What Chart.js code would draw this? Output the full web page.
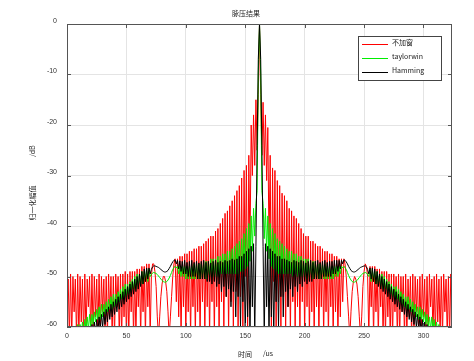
<!DOCTYPE html>
<html>
<head>
<meta charset="utf-8">
<script src="https://cdn.jsdelivr.net/npm/chart.js@4.4.0/dist/chart.umd.min.js"></script>
<style>
  html, body { margin: 0; padding: 0; background: #fff; }
  #wrap { width: 474px; height: 361px; position: relative; }
</style>
</head>
<body>
<div id="wrap"><canvas id="pc"></canvas></div>
<script>
// 脉压结果 — matched-filter output for three window choices, dB vs time (us).
const T0 = 0;   // time of first sample, us
const DT = 1;   // sample spacing, us
const xTicks = [0, 50, 100, 150, 200, 250, 300];
const yTicks = [0, -10, -20, -30, -40, -50, -60];
const seriesNames = ["不加窗", "taylorwin", "Hamming"];
const seriesColours = ["#ff0000", "#00ee00", "#000000"];

// values below -60 fall outside the axis and get clipped, like the original
const noWindowDb = [
  -55, -50.5, -62, -49.5, -62, -50, -57, -50.5, -62, -49.5,
  -62, -50, -59, -50.5, -62, -49.5, -62, -50.5, -56, -50,
  -62, -49.5, -62, -50, -58, -50.5, -62, -49.5, -62, -50,
  -57, -50.5, -62, -50, -62, -49.5, -58, -50, -62, -50,
  -62, -49.5, -56, -50, -62, -49.5, -62, -49.5, -58, -49,
  -62, -49.5, -62, -49, -57, -49, -62, -49, -62, -48.5,
  -56, -48.5, -62, -48, -57, -48, -62, -47.5, -56, -47.5,
  -62, -50, -47.5, -47.5, -49, -52, -58, -62, -58, -54,
  -51.5, -50, -50, -51, -53, -57, -62, -58, -54, -50,
  -47.5, -46.5, -55, -46.5, -58, -46, -62, -46, -56, -45.5,
  -62, -45.5, -57, -45, -62, -45, -56, -44.5, -62, -44.5,
  -57, -44, -62, -44, -55, -43.5, -62, -43, -56, -42.5,
  -62, -42, -55, -42, -62, -41, -56, -40.5, -62, -39.5,
  -55, -38.5, -62, -37.5, -54, -37, -62, -36, -55, -35,
  -62, -34, -53, -33, -62, -32, -54, -30.5, -62, -29,
  -50, -28, -62, -26, -45, -20, -30, -18, -28, -15,
  -25, -14,
  0,
  -14, -26, -15.5, -28, -18, -31, -20.5, -44, -26, -62,
  -28.5, -51, -29, -62, -31, -55, -32, -62, -33.5, -54,
  -34, -62, -35, -56, -36.5, -62, -37, -55, -38, -62,
  -38.5, -56, -39.5, -62, -40.5, -55, -41.5, -62, -42, -56,
  -42, -62, -43, -57, -43, -62, -43.5, -56, -44, -62,
  -44, -56, -44.5, -62, -45, -57, -45, -62, -45.5, -56,
  -45.5, -62, -46, -57, -46, -62, -46.5, -58, -46.5, -55,
  -46.5, -47.5, -50, -54, -58, -62, -57, -53, -51, -50,
  -50.5, -51.5, -54, -58, -62, -58, -52, -49, -47.5, -48,
  -50, -62, -48, -56, -48, -62, -48, -57, -48.5, -62,
  -48.5, -56, -49, -62, -49, -62, -49, -58, -49.5, -62,
  -49.5, -62, -49.5, -57, -50, -62, -49.5, -62, -50, -57,
  -50, -62, -49.5, -62, -50.5, -58, -50, -62, -49.5, -62,
  -50, -57, -50.5, -62, -50, -62, -49.5, -58, -50.5, -62,
  -50, -62, -49.5, -56, -50.5, -62, -50, -62, -49.5, -59,
  -50.5, -62, -50, -62, -49.5, -57, -50.5, -62, -50, -62,
  -49.5, -55
];

const taylorDb = [
  -64, -61.5, -63.5, -61, -63, -60.5, -62.5, -60, -62.5, -59.5,
  -62, -59.5, -61.5, -59, -61, -58.5, -60.5, -58, -60.5, -57.5,
  -60, -57.5, -59.5, -57, -59, -56.5, -58.5, -56, -58.5, -55.5,
  -58, -55.5, -57.5, -55, -57, -54.5, -56.5, -54, -56.5, -53.5,
  -56, -53.5, -55.5, -53, -55, -52.5, -54.5, -52, -54.5, -51.5,
  -54, -51.5, -53.5, -51, -53, -50.5, -52.5, -50, -52.5, -49.5,
  -52, -49.5, -51.5, -49, -51.5, -49, -51, -48.5, -51, -48.5,
  -50, -49.6, -49.3, -49.2, -49.3, -49.4, -49.6, -49.9, -50.2, -50.5,
  -50.8, -51, -51.1, -51.1, -51, -50.7, -50.3, -49.8, -49.2, -48.6,
  -48.2, -48, -48.3, -48, -49.5, -48, -50, -48, -50, -48,
  -50.5, -48, -50.5, -48, -50.5, -48, -50.5, -47.5, -50.5, -47.5,
  -50.5, -47.5, -50.5, -47.5, -50.5, -47, -50.5, -47, -50.5, -47,
  -50, -46.5, -50, -46.5, -50, -46.5, -50, -46, -50, -46,
  -49.5, -45.5, -49.5, -45.5, -49.5, -45, -49.5, -45, -49.5, -44.5,
  -49.5, -44, -49.5, -43.5, -49.5, -43, -49, -42.5, -49, -41.5,
  -48.5, -40.5, -48, -39.5, -47, -38, -45, -36.5, -42, -35.5,
  -33, -10,
  0,
  -10, -33, -35.5, -42.5, -36.5, -45, -38, -46.5, -39.5, -48,
  -40.5, -48.5, -41.5, -49, -42.5, -49.5, -43, -49.5, -43.5, -49.5,
  -44, -49.5, -44.5, -49.5, -45, -49.5, -45, -50, -45.5, -49.5,
  -45.5, -50, -46, -50, -46, -50, -46.5, -50, -46.5, -50.5,
  -46.5, -50, -47, -50.5, -47, -50.5, -47, -50.5, -47.5, -50.5,
  -47.5, -50.5, -47.5, -50.5, -47.5, -50.5, -48, -50.5, -48, -50.5,
  -48, -50.5, -48, -50, -48, -50, -48, -49.5, -48, -48.3,
  -48, -48.2, -48.6, -49.2, -49.8, -50.3, -50.7, -51, -51.1, -51.1,
  -51, -50.8, -50.5, -50.2, -49.9, -49.6, -49.4, -49.3, -49.2, -49.3,
  -49.6, -50, -48.5, -51, -48.5, -51, -49, -51.5, -49, -51.5,
  -49.5, -52, -49.5, -52.5, -50, -52.5, -50.5, -53, -51, -53.5,
  -51.5, -54, -52, -54.5, -52, -54.5, -52.5, -55, -53, -55.5,
  -53.5, -56, -54, -56.5, -54, -56.5, -54.5, -57, -55, -57.5,
  -55.5, -58, -56, -58.5, -56, -58.5, -56.5, -59, -57, -59.5,
  -57.5, -60, -58, -60.5, -58, -60.5, -58.5, -61, -59, -61.5,
  -59.5, -62, -60, -62.5, -60.5, -62.5, -61, -63, -61, -63.5,
  -61.5, -64
];

const hammingDb = [
  -67.5, -64.5, -67, -64, -66.5, -63.5, -66, -63, -65.5, -62.5,
  -65, -62, -64.5, -61.5, -64, -61, -63.5, -60.5, -63, -60,
  -62.5, -59.5, -62, -59, -61.5, -58.5, -61, -58, -60.5, -57.5,
  -60, -57, -59.5, -56.5, -59, -56, -58.5, -55.5, -58, -55,
  -57.5, -54.5, -57, -54, -56.5, -53.5, -56, -53, -55.5, -52.5,
  -55, -52, -54.5, -51.5, -54, -51, -53.5, -50.5, -53, -50,
  -52.5, -49.5, -52, -49, -51.5, -48.5, -51, -48.3, -50.5, -48.3,
  -49.5, -48.6, -48.1, -47.9, -47.9, -48, -48.1, -48.2, -48.4, -48.6,
  -48.8, -49, -49.1, -49.1, -49, -48.8, -48.4, -48, -47.5, -47.1,
  -46.8, -46.7, -47.5, -46.8, -48.5, -46.9, -49, -47, -49.5, -46.8,
  -49.5, -47.2, -50, -47, -50, -46.8, -50, -47.2, -50, -47,
  -50.5, -47.3, -50.5, -47, -50.5, -46.8, -50.5, -47.2, -51, -47,
  -51, -47.3, -51.5, -47, -51, -46.8, -52, -47.2, -51.5, -47,
  -53, -47.2, -52, -46.8, -54, -47, -52.5, -46.8, -56, -46.5,
  -53, -46.7, -58, -46.5, -54, -46, -60, -46, -55, -45.5,
  -62, -45, -58, -44.5, -62, -44, -56, -43.5, -62, -44,
  -24, -7,
  0,
  -7, -24, -44, -62, -43.5, -56, -44, -62, -44.5, -58,
  -45, -62, -45.5, -55, -46, -60, -46, -54, -46.5, -58,
  -46.5, -53, -46.7, -56, -47, -52.5, -47.2, -54, -46.8, -52,
  -47, -53, -47.2, -51.5, -46.8, -52, -47, -51, -47.3, -51.5,
  -47, -51, -46.8, -51, -47.2, -50.5, -47, -50.5, -46.8, -50.5,
  -47.2, -50.5, -47, -50, -46.8, -50, -47.2, -50, -47, -50,
  -47, -49.5, -46.8, -49.5, -46.8, -49, -46.8, -48.5, -46.8, -47.5,
  -46.7, -46.8, -47.1, -47.5, -48, -48.4, -48.8, -49, -49.1, -49.1,
  -49, -48.8, -48.6, -48.4, -48.2, -48.1, -48, -47.9, -47.9, -48.1,
  -48.6, -49.5, -48.3, -50.5, -48.3, -51, -48.5, -51.5, -49, -52,
  -49.5, -52.5, -50, -53, -50.5, -53.5, -51, -54, -51.5, -54.5,
  -52, -55, -52.5, -55.5, -53, -56, -53.5, -56.5, -54, -57,
  -54.5, -57.5, -55, -58, -55.5, -58.5, -56, -59, -56.5, -59.5,
  -57, -60, -57.5, -60.5, -58, -61, -58.5, -61.5, -59, -62,
  -59.5, -62.5, -60, -63, -60.5, -63.5, -61, -64, -61.5, -64.5,
  -62, -65, -62.5, -65.5, -63, -66, -63.5, -66.5, -64, -67,
  -64.5, -67.5
];

const CJK = '"Noto Sans CJK SC", sans-serif';
const toPoints = (arr) => arr.map((y, i) => ({ x: T0 + i * DT, y }));

// frame with inward ticks, titles and the boxed legend, all drawn over the plot
const decorations = {
  id: "decorations",
  afterDraw(chart) {
    const { ctx, chartArea: a, scales } = chart;
    ctx.save();
    ctx.lineWidth = 1;
    ctx.strokeStyle = "#555";
    ctx.strokeRect(a.left + 0.5, a.top + 0.5, a.right - a.left - 1, a.bottom - a.top - 1);

    ctx.beginPath();
    xTicks.forEach((v) => {
      const px = Math.round(scales.x.getPixelForValue(v)) + 0.5;
      ctx.moveTo(px, a.top); ctx.lineTo(px, a.top + 4);
      ctx.moveTo(px, a.bottom); ctx.lineTo(px, a.bottom - 4);
    });
    yTicks.forEach((v) => {
      const py = Math.round(scales.y.getPixelForValue(v)) + 0.5;
      ctx.moveTo(a.left, py); ctx.lineTo(a.left + 4, py);
      ctx.moveTo(a.right, py); ctx.lineTo(a.right - 4, py);
    });
    ctx.stroke();

    ctx.fillStyle = "#222";
    ctx.font = "7px " + CJK;
    ctx.textAlign = "center";
    ctx.textBaseline = "middle";
    ctx.fillText("脉压结果", 246, 13);
    ctx.fillText("时间", 245, 354);
    ctx.fillText("/us", 268, 353);

    ctx.save();
    ctx.translate(32, 0);
    ctx.rotate(-Math.PI / 2);
    ctx.fillText("归一化幅值", -203, 0);
    ctx.fillText("/dB", -151, 0);
    ctx.restore();

    // legend box
    ctx.fillStyle = "#fff";
    ctx.fillRect(358, 36, 84, 45);
    ctx.strokeStyle = "#444";
    ctx.strokeRect(358.5, 36.5, 83, 44);
    seriesNames.forEach((name, k) => {
      const y = 44 + k * 14;
      ctx.strokeStyle = seriesColours[k];
      ctx.beginPath();
      ctx.moveTo(362, y + 0.5); ctx.lineTo(388, y + 0.5);
      ctx.stroke();
      ctx.fillStyle = "#222";
      ctx.textAlign = "left";
      ctx.fillText(name, 392, y - 2);
    });
    ctx.restore();
  },
};

const datasets = [noWindowDb, taylorDb, hammingDb].map((arr, k) => ({
  label: seriesNames[k],
  data: toPoints(arr),
  borderColor: seriesColours[k],
  backgroundColor: seriesColours[k],
  borderWidth: 1,
  pointRadius: 0,
  tension: 0,
  order: 3 - k, // black drawn last, on top
}));

new Chart(document.getElementById("pc"), {
  type: "line",
  data: { datasets },
  plugins: [decorations],
  options: {
    responsive: true,
    maintainAspectRatio: false,
    animation: false,
    events: [],
    parsing: false,
    layout: { padding: { left: 0, right: 22, top: 24, bottom: 0 } },
    plugins: { legend: { display: false }, tooltip: { enabled: false } },
    scales: {
      x: {
        type: "linear",
        min: 0,
        max: 324,
        afterBuildTicks: (s) => { s.ticks = xTicks.map((v) => ({ value: v })); },
        afterFit: (s) => { s.height = 34; },
        grid: { color: "#e4e4e4", drawTicks: false },
        border: { display: false },
        ticks: { padding: 5, color: "#333", font: { size: 7, family: '"Liberation Sans", sans-serif' } },
      },
      y: {
        type: "linear",
        min: -60,
        max: 0,
        afterBuildTicks: (s) => { s.ticks = yTicks.map((v) => ({ value: v })); },
        afterFit: (s) => { s.width = 67; },
        grid: { color: "#e4e4e4", drawTicks: false },
        border: { display: false },
        ticks: { padding: 10, labelOffset: -3, color: "#333", font: { size: 7, family: '"Liberation Sans", sans-serif' } },
      },
    },
  },
});
</script>
</body>
</html>
